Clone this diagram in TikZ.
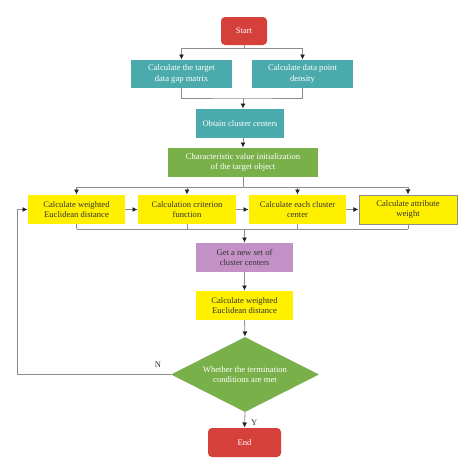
\documentclass[tikz,border=0pt]{standalone}
\usepackage{fontspec}
\setmainfont{Liberation Serif}
\usetikzlibrary{shapes.geometric,arrows.meta}
\definecolor{cred}{HTML}{D6403A}
\definecolor{cteal}{HTML}{4BAAAC}
\definecolor{cgreen}{HTML}{79B04A}
\definecolor{cyel}{HTML}{FFF000}
\definecolor{cpurp}{HTML}{C391C6}
\definecolor{cline}{HTML}{8C8C8C}
\definecolor{ctext}{HTML}{333333}
\definecolor{ctip}{HTML}{222222}
\begin{document}
\begin{tikzpicture}[x=1pt,y=-1pt,
  font=\fontsize{8.6}{10.7}\selectfont,
  box/.style={rectangle, minimum width=#1, minimum height=29, inner sep=0, align=center},
  redbox/.style={box=#1, fill=cred, rounded corners=4, text=white},
  tealbox/.style={box=#1, fill=cteal, text=white},
  greenbox/.style={box=#1, fill=cgreen, text=white},
  yelbox/.style={box=#1, fill=cyel, text=ctext},
  purpbox/.style={box=#1, fill=cpurp, text=ctext},
  ln/.style={draw=cline, line width=0.8pt},
  arr/.style={ln, -{Latex[length=5pt,width=5pt,color=ctip]}, shorten >=0.3pt},
  lbl/.style={text=ctext, inner sep=0}
]
\useasboundingbox (0,0) rectangle (474,474);
\fill[white] (0,0) rectangle (474,474);

\node[redbox=46, minimum height=28] (start) at (244,31) {Start};
\node[tealbox=101, minimum height=28] (ta) at (181.5,74) {Calculate the target\\data gap matrix};
\node[tealbox=101, minimum height=28] (tb) at (302.5,74) {Calculate data point\\density};
\node[tealbox=88] (oc) at (240,123.5) {Obtain cluster centers};
\node[greenbox=150] (ci) at (243,162.5) {Characteristic value initialization\\of the target object};
\node[yelbox=97] (y1) at (76.5,209.5) {Calculate weighted\\Euclidean distance};
\node[yelbox=98] (y2) at (187,209.5) {Calculation criterion\\function};
\node[yelbox=97] (y3) at (297.5,209.5) {Calculate each cluster\\center};
\node[yelbox=98, draw=cline, line width=0.6pt] (y4) at (408,209.5) {Calculate attribute\\weight};
\node[purpbox=97] (pu) at (244.5,257.5) {Get a new set of\\cluster centers};
\node[yelbox=97] (y5) at (244.5,305.5) {Calculate weighted\\Euclidean distance};
\node[diamond, aspect=2, fill=cgreen, text=white, inner sep=0, minimum width=148, minimum height=75, align=center] (dm) at (245,374.5) {Whether the termination\\conditions are met};
\node[redbox=73] (end) at (244.5,442.5) {End};

% start branch
\coordinate (s1) at (244,48);
\draw[ln] (start.south) -- (s1);
\draw[arr] (s1) -| (ta.north);
\draw[arr] (s1) -| (tb.north);
% merge
\coordinate (m1) at (243,98);
\draw[ln] (ta.south) |- (m1) -| (tb.south);
\draw[arr] (m1) -- (m1 |- oc.north);
\draw[arr] (oc.south -| ci.north) -- (ci.north);
% row distribution
\coordinate (r1) at (243,187);
\draw[ln] (ci.south) -- (ci.south |- r1);
\draw[ln] (y1.north |- r1) -- (y4.north |- r1);
\draw[arr] (y1.north |- r1) -- (y1.north);
\draw[arr] (y2.north |- r1) -- (y2.north);
\draw[arr] (y3.north |- r1) -- (y3.north);
\draw[arr] (y4.north |- r1) -- (y4.north);
% row sequence
\draw[arr] (y1.east) -- (y2.west);
\draw[arr] (y2.east) -- (y3.west);
\draw[arr] (y3.east) -- (y4.west);
% row merge
\coordinate (r2) at (244.5,229);
\draw[ln] (y1.south) -- (y1.south |- r2);
\draw[ln] (y2.south) -- (y2.south |- r2);
\draw[ln] (y3.south) -- (y3.south |- r2);
\draw[ln] (y4.south) -- (y4.south |- r2);
\draw[ln] (y1.south |- r2) -- (y4.south |- r2);
\draw[arr] (r2) -- (pu.north);
\draw[arr] (pu.south) -- (y5.north);
\draw[arr] (y5.south) -- (dm.north);
\draw[arr] (dm.south) -- (end.north);
\node[lbl, anchor=west] (ylab) at (251,423) {Y};
% loop back
\coordinate (nl) at (17,374.5);
\draw[arr] (dm.west) -- (nl) |- (y1.west);
\node[lbl] (nlab) at (158,365) {N};
\end{tikzpicture}
\end{document}
